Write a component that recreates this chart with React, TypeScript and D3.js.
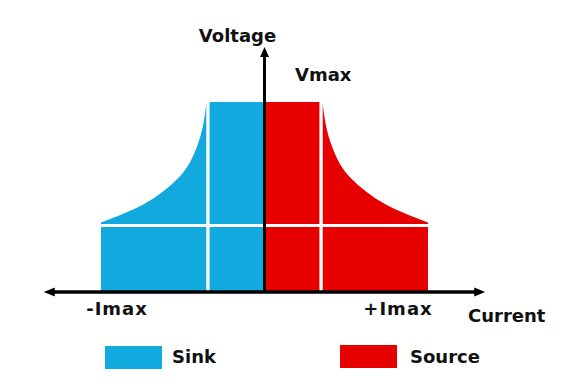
import React from 'react';
import * as d3 from 'd3';

// chart values (current & voltage in units of Imax / Vmax)
const curveCurrents = [1.0, 0.9, 0.8, 0.7, 0.6, 0.5, 0.45, 0.4, 0.375, 0.362, 0.355];
const curveVoltages = [0.366, 0.398, 0.434, 0.478, 0.54, 0.62, 0.685, 0.79, 0.875, 0.945, 1.0];
const kneeCurrent = 0.345;
const gridVoltage = 0.35;
const axisCurrentExtent = 1.35;
const axisVoltageTop = 1.29;
const currentLabels = ['-Imax', '+Imax'];
const legendItems = ['Sink', 'Source'];

const BLUE = '#11a9de';
const RED = '#e60000';
const WIDTH = 563;
const HEIGHT = 387;

const App: React.FC = () => {
  const x = d3.scaleLinear().domain([-1, 1]).range([101, 428]);
  const y = d3.scaleLinear().domain([0, 1]).range([292, 102]);

  // smooth outline through the read-off points
  const area = d3.area<[number, number]>()
    .x(d => x(d[0]))
    .y0(y(0))
    .y1(d => y(d[1]))
    .curve(d3.curveBasis);

  const sinkPts: [number, number][] = curveCurrents.map((c, i) => [-c, curveVoltages[i]]);
  const sourcePts: [number, number][] = curveCurrents
    .map((c, i) => [c, curveVoltages[i]] as [number, number])
    .reverse();

  const x0 = x(0);
  const yAxisY = y(0);
  const font = '"DejaVu Sans", Verdana, sans-serif';

  const xl = x(-axisCurrentExtent);
  const xr = x(axisCurrentExtent);
  const yt = y(axisVoltageTop);

  return (
    <svg width={WIDTH} height={HEIGHT} style={{ position: 'absolute', left: 0, top: 0, background: '#fff' }}>
      {/* sink (blue) */}
      <path d={area(sinkPts) || ''} fill={BLUE} />
      <rect x={x(-kneeCurrent)} y={y(1)} width={x0 - x(-kneeCurrent)} height={y(0) - y(1)} fill={BLUE} />
      {/* source (red) */}
      <path d={area(sourcePts) || ''} fill={RED} />
      <rect x={x0} y={y(1)} width={x(kneeCurrent) - x0} height={y(0) - y(1)} fill={RED} />

      {/* white grid lines */}
      <line x1={x(-1)} x2={x(1)} y1={y(gridVoltage)} y2={y(gridVoltage)} stroke="#fff" strokeWidth={3} />
      {[-kneeCurrent, kneeCurrent].map(c => (
        <line key={c} x1={x(c)} x2={x(c)} y1={y(1)} y2={y(0)} stroke="#fff" strokeWidth={3} />
      ))}

      {/* axes */}
      <line x1={xl + 9} x2={xr - 9} y1={yAxisY} y2={yAxisY} stroke="#000" strokeWidth={3.5} />
      <polygon points={`${xr},${yAxisY} ${xr - 11},${yAxisY - 4.5} ${xr - 11},${yAxisY + 4.5}`} fill="#000" />
      <polygon points={`${xl},${yAxisY} ${xl + 11},${yAxisY - 4.5} ${xl + 11},${yAxisY + 4.5}`} fill="#000" />
      <line x1={x0} x2={x0} y1={yAxisY} y2={yt + 8} stroke="#000" strokeWidth={3} />
      <polygon points={`${x0},${yt} ${x0 - 4.5},${yt + 10} ${x0 + 4.5},${yt + 10}`} fill="#000" />

      {/* labels */}
      <g fontFamily={font} fontWeight="bold" fontSize={18} fill="#111">
        <text x={x0 - 27} y={42} textAnchor="middle">Voltage</text>
        <text x={295} y={81}>Vmax</text>
        <text x={x(-1) + 16} y={315} textAnchor="middle" letterSpacing={1}>{currentLabels[0]}</text>
        <text x={x(1) - 30} y={315} textAnchor="middle" letterSpacing={1}>{currentLabels[1]}</text>
        <text x={468} y={322}>Current</text>
      </g>

      {/* legend */}
      <g fontFamily={font} fontWeight="bold" fontSize={18} fill="#111">
        <rect x={105} y={346} width={57} height={23} fill={BLUE} />
        <text x={172} y={363}>{legendItems[0]}</text>
        <rect x={340} y={345} width={57} height={23} fill={RED} />
        <text x={410} y={363}>{legendItems[1]}</text>
      </g>
    </svg>
  );
};

export default App;
